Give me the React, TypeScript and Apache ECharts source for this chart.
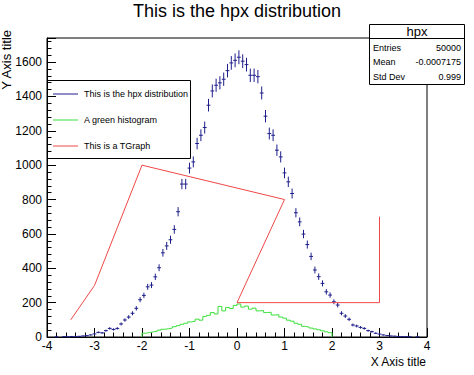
import React, { useEffect, useRef } from "react";
import * as echarts from "echarts";

const titleText = "This is the hpx distribution";
const xAxisTitle = "X Axis title";
const yAxisTitle = "Y Axis title";

// hpx: 100 bins from -4 to 4
const hpxXMin = -4;
const hpxXMax = 4;
const hpxCounts = [
  0, 0, 1, 0, 2, 1, 3, 2, 4, 6,
  8, 12, 18, 27, 24, 37, 50, 44, 50, 76,
  99, 116, 138, 167, 217, 242, 292, 302, 350, 403,
  490, 530, 566, 626, 729, 890, 890, 983, 1019, 1126,
  1174, 1219, 1349, 1432, 1465, 1479, 1500, 1550, 1595, 1610,
  1628, 1605, 1585, 1523, 1523, 1515, 1420, 1285, 1184, 1174,
  1087, 1048, 955, 903, 835, 723, 670, 599, 538, 469,
  390, 351, 312, 263, 244, 205, 186, 138, 122, 103,
  70, 64, 56, 50, 37, 31, 22, 17, 12, 8,
  6, 5, 3, 2, 2, 1, 0, 1, 0, 0,
];

// green histogram: 50 bins from -2 to 2
const greenXMin = -2;
const greenXMax = 2;
const greenCounts = [
  22, 26, 30, 33, 40, 45, 48, 52, 60, 66,
  74, 80, 88, 92, 104, 98, 120, 126, 142, 134,
  178, 152, 172, 166, 184, 192, 174, 180, 162, 168,
  152, 154, 142, 144, 128, 130, 116, 110, 98, 92,
  80, 74, 62, 58, 52, 47, 42, 36, 30, 25,
];

// TGraph
const graphX = [-3.5, -3, -2, 1, 0, 3, 3];
const graphY = [100, 300, 1000, 800, 200, 200, 700];

const legendLabels = ["This is the hpx distribution", "A green histogram", "This is a TGraph"];
const statsName = "hpx";
const statsLabels = ["Entries", "Mean", "Std Dev"];
const statsValues = ["50000", "-0.0007175", "0.999"];

const BLUE = "#1e1e8c";
const GREEN = "#3be03b";
const RED = "#f04848";
const FONT = "Liberation Sans, Arial, Helvetica, sans-serif";

export default function App() {
  const ref = useRef<HTMLDivElement>(null);
  useEffect(() => {
    const chart = echarts.init(ref.current!, null, { renderer: "svg" });
    const binW = (hpxXMax - hpxXMin) / hpxCounts.length;
    const hpxData = hpxCounts
      .map((v, i) => [hpxXMin + (i + 0.5) * binW, v])
      .filter((d) => d[1] > 0);
    const gW = (greenXMax - greenXMin) / greenCounts.length;
    const greenData: number[][] = [[greenXMin, 0]];
    greenCounts.forEach((v, i) => {
      greenData.push([greenXMin + i * gW, v]);
      greenData.push([greenXMin + (i + 1) * gW, v]);
    });
    greenData.push([greenXMax, 0]);
    const graphData = graphX.map((x, i) => [x, graphY[i]]);

    const legendColors = [BLUE, GREEN, RED];
    const legendRows = [94, 120, 146];
    const legendChildren: any[] = [
      { type: "rect", shape: { x: 47.5, y: 80.5, width: 143, height: 78 }, style: { fill: "#fff", stroke: "#000", lineWidth: 1 } },
    ];
    legendLabels.forEach((lab, i) => {
      legendChildren.push({ type: "line", shape: { x1: 53, y1: legendRows[i], x2: 78, y2: legendRows[i] }, style: { stroke: legendColors[i], lineWidth: 1 } });
      legendChildren.push({ type: "text", x: 84, y: legendRows[i], style: { text: lab, fill: "#000", font: `9px ${FONT}`, textAlign: "left", textVerticalAlign: "middle" } });
    });

    const statRows = [48, 62, 76.5];
    const statsChildren: any[] = [
      { type: "rect", shape: { x: 369.5, y: 24.5, width: 95, height: 60 }, style: { fill: "#fff", stroke: "#000", lineWidth: 1 } },
      { type: "line", shape: { x1: 369.5, y1: 38.5, x2: 464.5, y2: 38.5 }, style: { stroke: "#000", lineWidth: 1 } },
      { type: "text", x: 417, y: 31.5, style: { text: statsName, fill: "#000", font: `13px ${FONT}`, textAlign: "center", textVerticalAlign: "middle" } },
    ];
    statsLabels.forEach((lab, i) => {
      statsChildren.push({ type: "text", x: 373, y: statRows[i], style: { text: lab, fill: "#000", font: `9px ${FONT}`, textAlign: "left", textVerticalAlign: "middle" } });
      statsChildren.push({ type: "text", x: 461, y: statRows[i], style: { text: statsValues[i], fill: "#000", font: `9px ${FONT}`, textAlign: "right", textVerticalAlign: "middle" } });
    });

    const axisCommon = {
      axisLine: { show: true, onZero: false, lineStyle: { color: "#000", width: 1 } },
      axisTick: { show: true, inside: true, length: 9, lineStyle: { color: "#000", width: 1 } },
      minorTick: { show: true, splitNumber: 5, length: 4.5, lineStyle: { color: "#000", width: 1 } },
      splitLine: { show: false },
    };

    chart.setOption({
      animation: false,
      backgroundColor: "#fff",
      grid: { left: 47, right: 47, top: 38, bottom: 38, show: true, borderColor: "#000", borderWidth: 1, backgroundColor: "transparent" },
      xAxis: {
        type: "value", min: -4, max: 4, interval: 1, ...axisCommon,
        axisLabel: { margin: 3, color: "#000", fontSize: 12, fontFamily: FONT, formatter: (v: number) => String(v) },
      },
      yAxis: {
        type: "value", min: 0, max: 1740, interval: 200, ...axisCommon,
        axisLabel: { margin: 5, color: "#000", fontSize: 12, fontFamily: FONT, showMaxLabel: false, formatter: (v: number) => String(v) },
      },
      series: [
        {
          type: "line", data: greenData, symbol: "none", lineStyle: { color: GREEN, width: 1 }, z: 3,
        },
        {
          type: "custom", data: hpxData, encode: { x: 0, y: 1 }, z: 4,
          renderItem: (params: any, api: any) => {
            const x = api.value(0);
            const y = api.value(1);
            const e = Math.sqrt(y);
            const pL = api.coord([x - binW / 2, y]);
            const pR = api.coord([x + binW / 2, y]);
            const pT = api.coord([x, y + e]);
            const pB = api.coord([x, Math.max(0, y - e)]);
            return {
              type: "group",
              children: [
                { type: "line", shape: { x1: pL[0], y1: pL[1], x2: pR[0], y2: pR[1] }, style: { stroke: BLUE, lineWidth: 1 } },
                { type: "line", shape: { x1: pT[0], y1: pT[1], x2: pB[0], y2: pB[1] }, style: { stroke: BLUE, lineWidth: 1 } },
              ],
            };
          },
        },
        {
          type: "line", data: graphData, symbol: "none", lineStyle: { color: RED, width: 1 }, z: 5,
        },
      ],
      graphic: [
        { type: "text", x: 237, y: 11, z: 100, style: { text: titleText, fill: "#000", font: `18px ${FONT}`, textAlign: "center", textVerticalAlign: "middle" } },
        { type: "text", x: 426, y: 362, z: 100, style: { text: xAxisTitle, fill: "#000", font: `12px ${FONT}`, textAlign: "right", textVerticalAlign: "middle" } },
        { type: "text", x: 6, y: 30, rotation: Math.PI / 2, z: 100, style: { text: yAxisTitle, fill: "#000", font: `13px ${FONT}`, textAlign: "right", textVerticalAlign: "middle" } },
        { type: "group", z: 100, children: legendChildren },
        { type: "group", z: 100, children: statsChildren },
      ],
    });
    return () => chart.dispose();
  }, []);
  return <div ref={ref} style={{ position: "fixed", left: 0, top: 0, width: 474, height: 375, background: "#fff" }} />;
}
